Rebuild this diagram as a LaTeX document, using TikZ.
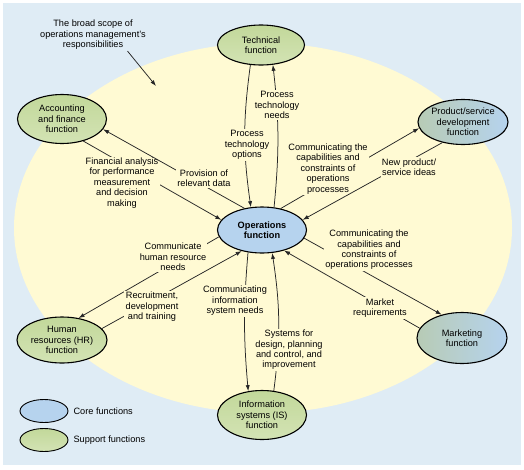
\documentclass[tikz,border=0pt]{standalone}
\usepackage{fontspec}
\setmainfont{Liberation Sans}
\usepackage{tikz}
\usetikzlibrary{shapes.geometric,arrows.meta}
\definecolor{bgblue}{HTML}{DFECF5}
\definecolor{cream}{HTML}{FFFAD3}
\definecolor{leafhi}{HTML}{C2D89A}
\definecolor{leaflo}{HTML}{D3E3B4}
\definecolor{corebl}{HTML}{B6D3EE}
\definecolor{sagegr}{HTML}{B7CBB5}
\newcommand\figfont{\fontsize{9.2}{10.4}\selectfont}
\tikzset{
  func/.style={ellipse, draw=black, line width=1.1pt, inner sep=0pt, align=center, minimum width=89pt, minimum height=46pt},
  support/.style={func, top color=leafhi, bottom color=leaflo},
  core/.style={func, fill=corebl, font=\figfont\bfseries},
  mixed/.style={func, left color=sagegr, right color=corebl},
  key/.style={ellipse, draw=black, line width=0.9pt, minimum width=48pt, minimum height=23pt},
  note/.style={align=center, fill=cream, inner sep=1.2pt},
  link/.style={-{Latex[length=6pt,width=4.2pt]}, draw=black!85, line width=0.75pt}
}
\begin{document}
\begin{tikzpicture}[x=1pt, y=-1pt, font=\figfont]
  \useasboundingbox (0,0) rectangle (524,469);
  % Backdrop
  \fill[white] (0,0) rectangle (524,469);
  \fill[bgblue] (3,3) rectangle (521,465);
  \fill[cream] (263,228) ellipse [x radius=249pt, y radius=185pt];
  % Functions
  \node[core] (ops) at (262,230) {Operations\\function};
  \node[support, minimum width=87pt, minimum height=40pt] (tech) at (261,45) {Technical\\function};
  \node[support, minimum height=49pt] (acc) at (62,119) {Accounting\\and finance\\function};
  \node[mixed, minimum width=90pt, minimum height=45pt] (prod) at (463,122) {Product/service\\development\\function};
  \node[support, minimum width=90pt] (hr) at (62,340) {Human\\resources (HR)\\function};
  \node[support, minimum height=49pt] (is) at (262,415) {Information\\systems (IS)\\function};
  \node[mixed, minimum width=90pt, minimum height=51pt] (mkt) at (462,338) {Marketing\\function};
  % Accounting and finance
  \draw[link] (acc.-46) -- (ops.166);
  \node[note] (fin) at (122,183) {Financial analysis\\for performance\\measurement\\and decision\\making};
  \draw[link] (ops.129) -- (acc.-14);
  \node[note] (prov) at (204,178) {Provision of\\relevant data};
  % Technical
  \draw[link] (tech.-118) to[bend right=8] (ops.116);
  \node[note] (opt) at (247,145) {Process\\technology\\options};
  \draw[link] (ops.62) to[bend right=6] (tech.-59);
  \node[note] (need) at (277,105) {Process\\technology\\needs};
  % Product/service development
  \draw[link] (ops.49) -- (prod.188);
  \node[note] (capa) at (328,169) {Communicating the\\capabilities and\\constraints of\\operations\\processes};
  \draw[link] (prod.-135) -- (ops.14);
  \node[note] (idea) at (409,167) {New product/\\service ideas};
  % Marketing
  \draw[link] (mkt.167) -- (ops.-43);
  \node[note] (mreq) at (380,308) {Market\\requirements};
  \draw[link] (ops.-11) -- (mkt.131);
  \node[note] (capb) at (369,250) {Communicating the\\capabilities and\\constraints of\\operations processes};
  % Human resources
  \draw[link] (ops.189) -- (hr.53);
  \node[note] (hrn) at (173,257) {Communicate\\human resource\\needs};
  \draw[link] (hr.16) -- (ops.226);
  \node[note] (recr) at (152,307) {Recruitment,\\development\\and training};
  % Information systems
  \draw[link] (ops.238) to[bend right=5] (is.120);
  \node[note] (isn) at (235,301) {Communicating\\information\\system needs};
  \draw[link] (is.64) to[bend right=8] (ops.-66);
  \node[note] (sys) at (289,350) {Systems for\\design, planning\\and control, and\\improvement};
  % Scope of the job
  \node[note, fill=none] (scope) at (93,35) {The broad scope of\\operations management’s\\responsibilities};
  \coordinate (scopein) at (156,86);
  \draw[link] (scope.-25) -- (scopein);
  % Key
  \node[key, fill=corebl] (corekey) at (44,411) {};
  \node[key, top color=leafhi, bottom color=leaflo] (supkey) at (44,440) {};
  \node[anchor=west] (coretxt) at (70,411) {Core functions};
  \node[anchor=west] (suptxt) at (70,440) {Support functions};
\end{tikzpicture}
\end{document}
